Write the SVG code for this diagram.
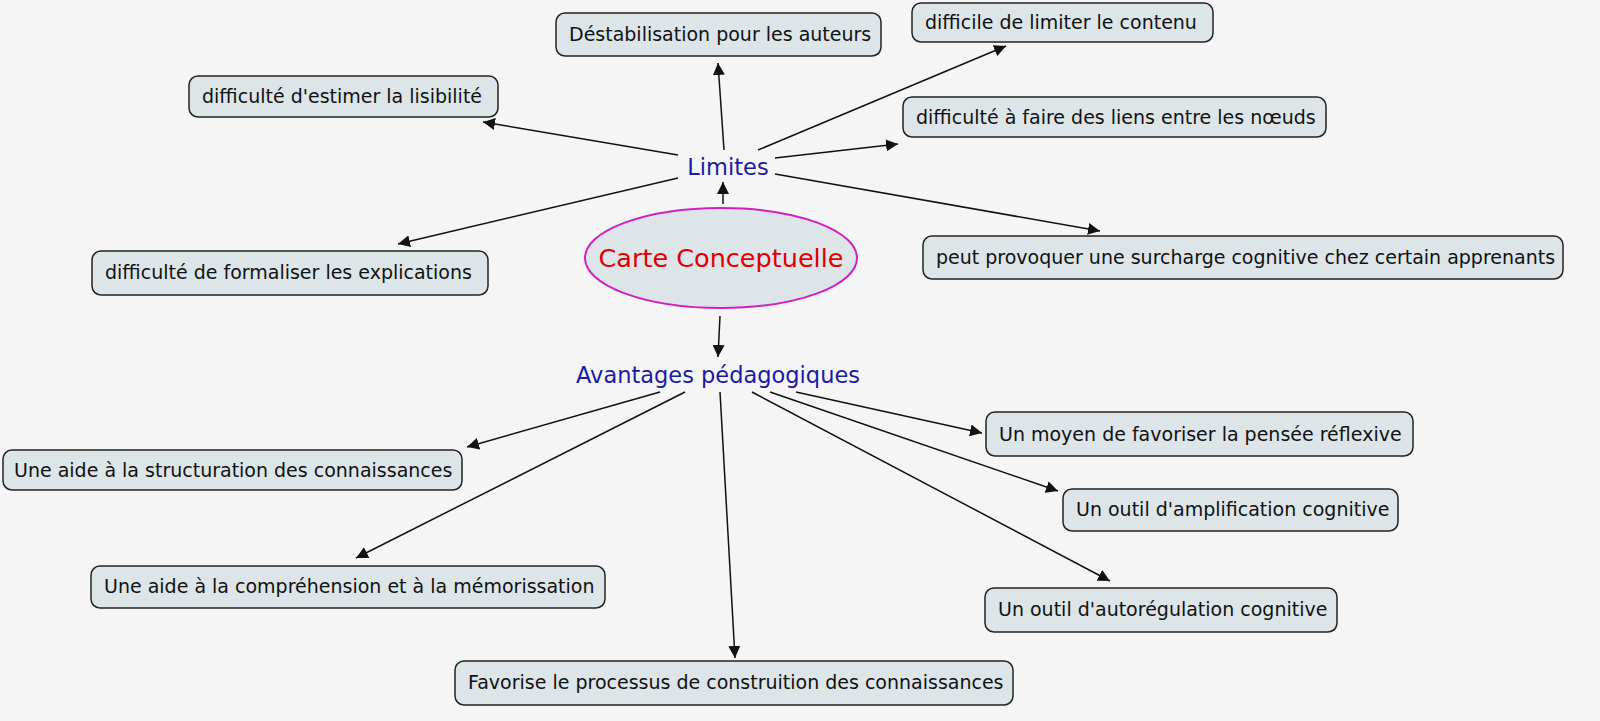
<svg xmlns="http://www.w3.org/2000/svg" width="1600" height="721" viewBox="0 0 1600 721">
<style>
.b{fill:#dde5e8;stroke:#222;stroke-width:1.5}
.t{font-family:"DejaVu Sans",sans-serif;font-size:19px;fill:#111}
.l{font-family:"DejaVu Sans",sans-serif;font-size:22.5px;fill:#1a1aa8;text-anchor:middle}
.c line{stroke:#111;stroke-width:1.5;marker-end:url(#a)}
</style>
<defs><marker id="a" viewBox="0 0 10 10" refX="10" refY="5" markerWidth="12" markerHeight="12" markerUnits="userSpaceOnUse" orient="auto"><path d="M0,0L10,5L0,10z" fill="#111"/></marker></defs>
<rect width="1600" height="721" fill="#f5f5f5"/>
<g class="c">
<line x1="723" y1="204" x2="723" y2="182"/>
<line x1="720" y1="316" x2="718" y2="357"/>
<line x1="724" y1="150" x2="718" y2="63"/>
<line x1="758" y1="150" x2="1006" y2="46"/>
<line x1="775" y1="158" x2="898" y2="144"/>
<line x1="775" y1="174" x2="1100" y2="231"/>
<line x1="678" y1="155" x2="483" y2="122"/>
<line x1="678" y1="178" x2="398" y2="244"/>
<line x1="660" y1="392" x2="467" y2="447"/>
<line x1="685" y1="392" x2="356" y2="558"/>
<line x1="720" y1="392" x2="735" y2="658"/>
<line x1="752" y1="392" x2="1110" y2="581"/>
<line x1="770" y1="392" x2="1058" y2="491"/>
<line x1="796" y1="392" x2="982" y2="433"/>
</g>
<g id="center"><ellipse cx="721" cy="258" rx="136" ry="50" fill="#dde5e8" stroke="#d020c0" stroke-width="2"/><text x="721" y="267" font-family="DejaVu Sans,sans-serif" font-size="25.5" fill="#e00000" text-anchor="middle">Carte Conceptuelle</text></g>
<g id="limites"><text class="l" x="728" y="175">Limites</text></g>
<g id="avantages"><text class="l" x="718" y="383">Avantages pédagogiques</text></g>
<g id="n1"><rect class="b" x="556" y="13" width="325" height="43" rx="9"/><text class="t" x="569" y="41">Déstabilisation pour les auteurs</text></g>
<g id="n2"><rect class="b" x="912" y="3" width="301" height="39" rx="9"/><text class="t" x="925" y="29">difficile de limiter le contenu</text></g>
<g id="n3"><rect class="b" x="189" y="76" width="309" height="41" rx="9"/><text class="t" x="202" y="103">difficulté d'estimer la lisibilité</text></g>
<g id="n4"><rect class="b" x="903" y="97" width="423" height="40" rx="9"/><text class="t" x="916" y="124">difficulté à faire des liens entre les nœuds</text></g>
<g id="n5"><rect class="b" x="923" y="236" width="640" height="43" rx="9"/><text class="t" x="936" y="264">peut provoquer une surcharge cognitive chez certain apprenants</text></g>
<g id="n6"><rect class="b" x="92" y="251" width="396" height="44" rx="9"/><text class="t" x="105" y="279">difficulté de formaliser les explications</text></g>
<g id="n7"><rect class="b" x="3" y="450" width="459" height="40" rx="9"/><text class="t" x="14" y="477">Une aide à la structuration des connaissances</text></g>
<g id="n8"><rect class="b" x="91" y="566" width="514" height="42" rx="9"/><text class="t" x="104" y="593">Une aide à la compréhension et à la mémorissation</text></g>
<g id="n9"><rect class="b" x="455" y="661" width="558" height="44" rx="9"/><text class="t" x="468" y="689">Favorise le processus de construition des connaissances</text></g>
<g id="n10"><rect class="b" x="986" y="412" width="427" height="44" rx="9"/><text class="t" x="999" y="441">Un moyen de favoriser la pensée réflexive</text></g>
<g id="n11"><rect class="b" x="1063" y="489" width="335" height="42" rx="9"/><text class="t" x="1076" y="516">Un outil d'amplification cognitive</text></g>
<g id="n12"><rect class="b" x="985" y="588" width="352" height="44" rx="9"/><text class="t" x="998" y="616">Un outil d'autorégulation cognitive</text></g>
</svg>
